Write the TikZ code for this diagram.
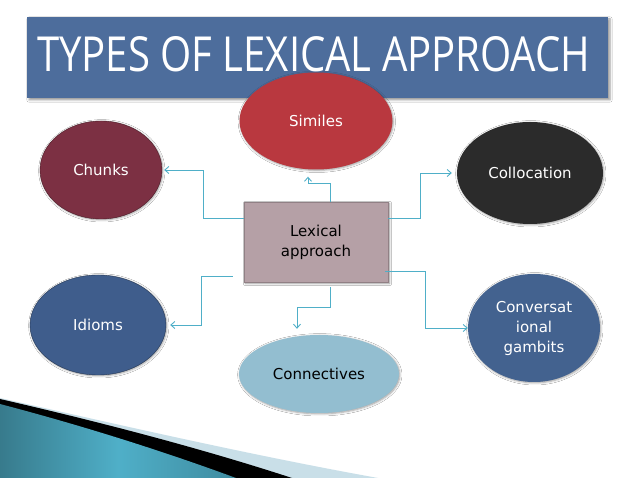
\documentclass[tikz,border=0pt]{standalone}
\usepackage{fontspec}
\setmainfont{DejaVu Sans}
\newfontfamily\titlefont{Open Sans}
\usetikzlibrary{shapes.geometric,shadows.blur,arrows.meta}

\definecolor{banner}{HTML}{4D6D9C}
\definecolor{link}{HTML}{4FAFC8}
\definecolor{lexcol}{HTML}{B5A0A6}
\definecolor{simcol}{HTML}{B9383F}
\definecolor{chkcol}{HTML}{7C3043}
\definecolor{colcol}{HTML}{2B2B2B}
\definecolor{idmcol}{HTML}{3F5D8C}
\definecolor{concol}{HTML}{93BED0}
\definecolor{gamcol}{HTML}{43628F}

\tikzstyle{oval} = [ellipse, inner sep=0pt, text=white,
    font=\fontsize{15}{20}\selectfont, align=center,
    blur shadow={shadow xshift=0.8pt, shadow yshift=-0.8pt, shadow blur steps=4}]
\tikzstyle{lexbox} = [rectangle, fill=lexcol, draw=lexcol!80!black, inner sep=0pt,
    minimum width=144pt, minimum height=80pt, align=center,
    font=\fontsize{15}{20}\selectfont,
    blur shadow={shadow xshift=1.5pt, shadow yshift=-1.5pt, shadow blur steps=5}]
\tikzstyle{arr} = [draw=link, line width=0.9pt, -{Straight Barb[length=4pt,width=7pt]}]

\begin{document}
\begin{tikzpicture}[x=1pt,y=-1pt]
\useasboundingbox (0,0) rectangle (638,478);
\fill[white] (0,0) rectangle (638,478);

% banner
\node[rectangle, fill=banner, inner sep=0pt, minimum width=581pt, minimum height=81pt,
  blur shadow={shadow xshift=2pt, shadow yshift=-2pt, shadow blur steps=5}]
  (banner) at (317.5,57.5) {};
\node[anchor=south west, inner sep=0pt, text=white] (title) at (37,72)
  {\resizebox{553pt}{35pt}{\titlefont TYPES OF LEXICAL APPROACH}};

% corner sweep
\fill[concol!50!white] (0,398) .. controls (120,425) and (250,455) .. (378,478) -- (0,478) -- cycle;
\fill[black] (0,399) .. controls (100,422) and (200,448) .. (292,478) -- (0,478) -- cycle;
\shade[left color=link!70!black, right color=link!80!black, middle color=link]
  (0,404) .. controls (80,425) and (160,450) .. (236,478) -- (0,478) -- cycle;

% nodes
\node[lexbox] (lex) at (316,242) {Lexical\\approach};
\node[oval, fill=simcol, minimum width=153pt, minimum height=97pt] (similes) at (316,121) {Similes};
\node[oval, fill=chkcol, draw=chkcol!60!black, minimum width=122pt, minimum height=98pt] (chunks) at (101,170) {Chunks};
\node[oval, fill=colcol, minimum width=146pt, minimum height=102pt] (colloc) at (530,173) {Collocation};
\node[oval, fill=idmcol, draw=idmcol!60!black, minimum width=136pt, minimum height=100pt] (idioms) at (98,325) {Idioms};
\node[oval, fill=concol, text=black, minimum width=160pt, minimum height=78pt] (connect) at (319,374) {Connectives};
\node[oval, fill=gamcol, minimum width=132pt, minimum height=108pt] (gambits) at (534,328) {Conversat\\ional\\gambits};

% connectors
\draw[arr, shorten >=2pt] ([yshift=24pt]lex.west) -- ++(-40,0) |- (chunks);
\draw[arr, shorten >=7pt] ([xshift=14pt]lex.north) -- ++(0,-18) -| ([xshift=-8pt]similes.south);
\draw[arr, shorten >=5pt] ([yshift=24pt]lex.east) -- ++(32,0) |- (colloc);
\draw[arr, shorten >=4pt] ([xshift=-11pt,yshift=-34pt]lex.west) -- ++(-31,0) |- (idioms);
\draw[arr, shorten >=6pt] ([xshift=14pt,yshift=-5pt]lex.south) -- ++(0,20) -| ([xshift=-22pt]connect.north);
\draw[arr] ([xshift=-3pt,yshift=-29pt]lex.east) -- ++(40,0) |- (gambits);
\end{tikzpicture}
\end{document}
